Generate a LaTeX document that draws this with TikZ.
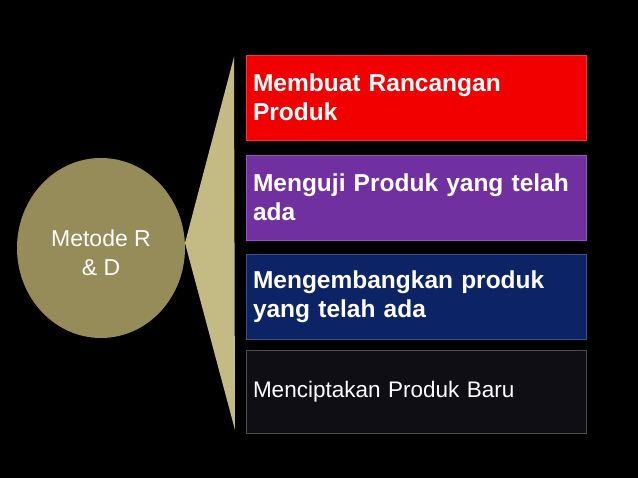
\documentclass[tikz,border=0pt]{standalone}
\usepackage{fontspec}
\setmainfont{Liberation Sans}
\usetikzlibrary{positioning,shapes.geometric}

\definecolor{khaki}{RGB}{150,140,90}
\definecolor{lightkhaki}{RGB}{196,186,132}
\definecolor{boxred}{RGB}{242,0,0}
\definecolor{boxpurple}{RGB}{112,48,160}
\definecolor{boxnavy}{RGB}{12,36,102}
\definecolor{boxblack}{RGB}{14,14,20}

\tikzset{
  item/.style={rectangle, minimum width=340pt, minimum height=85pt,
    text width=326pt, inner xsep=7pt, align=left, text=white,
    font=\fontsize{24.5}{28.5}\selectfont\bfseries},
}

\begin{document}
\begin{tikzpicture}[x=1pt,y=1pt]
				\fill[black] (0,0) rectangle (638,478);
				\coordinate (Apex) at (185,235);
				\coordinate (Top) at (234,421);
				\coordinate (Bottom) at (235,48);
				
				% cercle
				\node[ellipse, fill=khaki, minimum width=168pt, minimum height=180pt] (Method) at (101,230) {};
				\node[align=center, text=white, font=\fontsize{23}{29}\selectfont, yshift=-5pt] (MethodText) at (Method) {Metode R\\ \& D};
				\fill[lightkhaki] (Apex) -- (Top) -- (Bottom) -- cycle;
				
				% boites
				\node[item, fill=boxred, draw=boxred!80!white] (Design) at (416,380.5) {Membuat Rancangan\\ Produk};
				\node[item, fill=boxpurple, draw=boxpurple!80!white] (Test) at (416,280.5) {Menguji Produk yang telah\\ ada};
				\node[item, fill=boxnavy, draw=boxnavy!80!white] (Develop) at (416,181.5) {Mengembangkan produk\\ yang telah ada};
				\node[item, fill=boxblack, draw=black!70!white, minimum height=83pt,
				  font=\fontsize{22.5}{28.5}\selectfont] (Create) at (416,86.5) {Menciptakan Produk Baru};
			\end{tikzpicture}
\end{document}
